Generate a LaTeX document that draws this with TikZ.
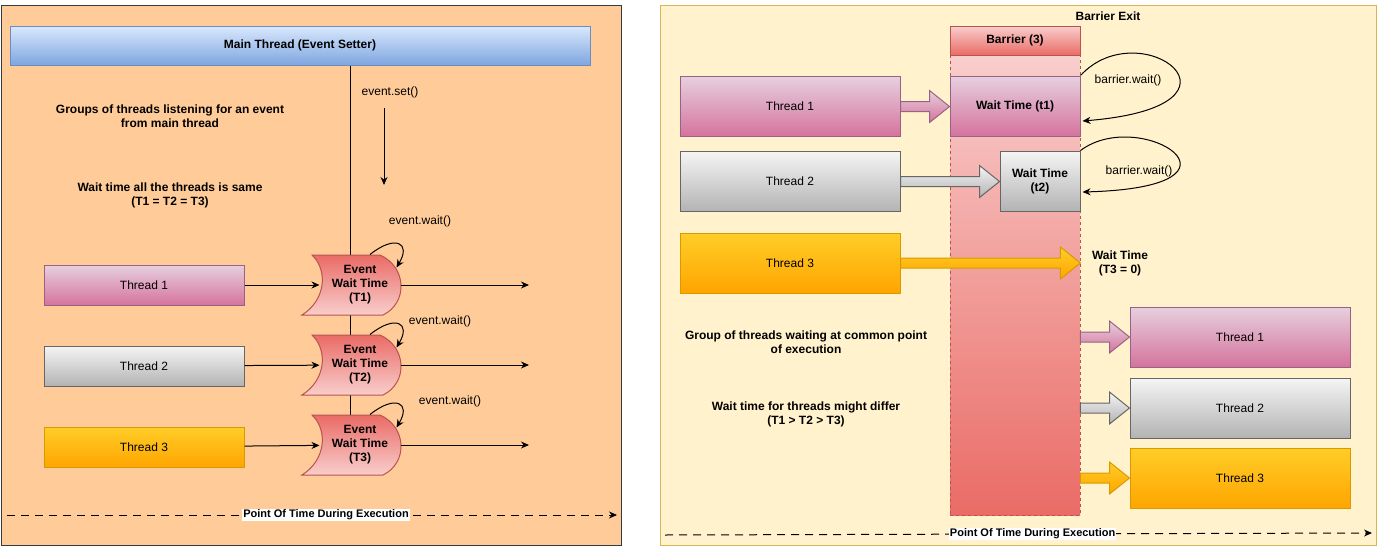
\documentclass[tikz,border=0pt]{standalone}
\usepackage{fontspec}
\setmainfont{Liberation Sans}
\usetikzlibrary{positioning,arrows.meta,calc}

\definecolor{peach}{HTML}{FFCC99}
\definecolor{darkln}{HTML}{36393D}
\definecolor{cream}{HTML}{FFF2CC}
\definecolor{creamln}{HTML}{D6B656}
\definecolor{blueA}{HTML}{DAE8FC}\definecolor{blueB}{HTML}{7EA6E0}\definecolor{blueln}{HTML}{6C8EBF}
\definecolor{purpA}{HTML}{E6D0DE}\definecolor{purpB}{HTML}{D5739D}\definecolor{purpln}{HTML}{996185}
\definecolor{greyA}{HTML}{F5F5F5}\definecolor{greyB}{HTML}{B3B3B3}\definecolor{greyln}{HTML}{666666}
\definecolor{orngA}{HTML}{FFCD28}\definecolor{orngB}{HTML}{FFA500}\definecolor{orngln}{HTML}{D79B00}
\definecolor{redA}{HTML}{F8CECC}\definecolor{redB}{HTML}{EA6B66}\definecolor{redln}{HTML}{B85450}

% fat block arrow: style, from, to
\newcommand\fatarrow[3]{%
  \path[#1] let \p1=(#2), \p2=(#3) in
    (\x1,\y1+5pt) -- (\x2-20pt,\y1+5pt) -- (\x2-20pt,\y1+16pt) -- (\x2,\y1)
    -- (\x2-20pt,\y1-16pt) -- (\x2-20pt,\y1-5pt) -- (\x1,\y1-5pt) -- cycle;}
% event wait shape round a centre coordinate
\newcommand\evshape[1]{%
  \shade[evfill,shift={(#1)}] (-38,-30) -- (30,-30)
    .. controls (57,-18) and (58,18) .. (33,30) -- (-48,30)
    .. controls (-24,15) and (-22,-15) .. (-38,-30) -- cycle;}

\begin{document}
\begin{tikzpicture}[x=1pt,y=-1pt,line width=1pt,
  >={Stealth[length=8pt,width=7pt]},
  every node/.style={font=\fontsize{12}{14}\selectfont,align=center},
  note/.style={font=\fontsize{12}{14}\selectfont\bfseries},
  box/.style 2 args={minimum width=#1,minimum height=#2,inner sep=0pt},
  purpfill/.style={top color=purpA,bottom color=purpB,draw=purpln},
  greyfill/.style={top color=greyA,bottom color=greyB,draw=greyln},
  orngfill/.style={top color=orngA,bottom color=orngB,draw=orngln},
  redfill/.style={top color=redA,bottom color=redB,draw=redln},
  evfill/.style={top color=redB,bottom color=redA,draw=redln},
  evtxt/.style={note,minimum width=80pt,minimum height=60pt,inner sep=0pt},
  tline/.style={->,dash pattern=on 8pt off 6pt},
  timelbl/.style={fill=white,inner sep=1pt,font=\fontsize{11}{13}\selectfont\bfseries}]
\useasboundingbox (0,0) rectangle (1379,546);

% ---- event (left) ----
\draw[darkln,fill=peach] (1,5) rectangle (621,545);
\node[box={580pt}{39pt},top color=blueA,bottom color=blueB,draw=blueln,note] (main) at (300,45.5) {Main Thread (Event Setter)};
\node[note] (grp) at (170,116) {Groups of threads listening for an event\\from main thread};
\node[note] (same) at (170,195) {Wait time all the threads is same\\(T1 = T2 = T3)};

\coordinate (e1) at (350,285);
\coordinate (e2) at (350,365);
\coordinate (e3) at (350,445);
\draw (main.south -| e3) -- (e3);
\evshape{e1}\evshape{e2}\evshape{e3}
\node[evtxt] (ev1) at ([xshift=10pt]e1) {Event\\Wait Time\\(T1)};
\node[evtxt] (ev2) at ([xshift=10pt]e2) {Event\\Wait Time\\(T2)};
\node[evtxt] (ev3) at ([xshift=10pt]e3) {Event\\Wait Time\\(T3)};

\node (eset) at (390,92) {event.set()};
\coordinate (setend) at (384,185);
\draw[->] ([shift={(-6,7)}]eset.south) -- (setend);

\node[box={200pt}{40pt},purpfill] (t1) at (144,285) {Thread 1};
\node[box={200pt}{40pt},greyfill,below=40pt of t1] (t2) {Thread 2};
\node[box={200pt}{40pt},orngfill,below=40pt of t2] (t3) {Thread 3};

\coordinate (outx) at (529,0);
\foreach \i in {1,2,3} {
  \draw[->] (t\i) -- (ev\i);
  \draw[->] (ev\i) -- (ev\i -| outx);
  \draw[->] ([xshift=10pt]ev\i.north) .. controls +(25,-20) and +(15,-25) .. ([shift={(-4,13)}]ev\i.north east);
}
\node (ew1) at (420,221) {event.wait()};
\node (ew2) at (440,321) {event.wait()};
\node (ew3) at (450,401) {event.wait()};

\coordinate (tl0) at (7,515);
\coordinate (tl1) at (617,515);
\draw[tline] (tl0) -- node[pos=0.523,timelbl] (tlab1) {Point Of Time During Execution} (tl1);

% ---- barrier (right) ----
\draw[creamln,fill=cream] (660,5) rectangle (1376,545);
\node[note] (exit) at (1108,16) {Barrier Exit};
\node[box={130pt}{460pt},redfill,dashed,line width=0.8pt] (bar) at (1015,285) {};
\node[box={130pt}{29pt},redfill,note] (barh) at (1015,40.5) {Barrier (3)};

\node[box={220pt}{60pt},purpfill] (thr1L) at (790,106.5) {Thread 1};
\node[box={220pt}{60pt},greyfill] (thr2L) at (790,181.5) {Thread 2};
\node[box={220pt}{60pt},orngfill] (thr3L) at (790,263) {Thread 3};
\node[box={130pt}{60pt},purpfill,note] (wt1) at (1015,106) {Wait Time (t1)};
\node[box={80pt}{60pt},greyfill,note] (wt2) at (1040,181) {Wait Time\\(t2)};

\fatarrow{purpfill}{thr1L.east}{wt1.west}
\fatarrow{greyfill}{thr2L.east}{wt2.west}
\fatarrow{orngfill}{thr3L.east}{thr3L.east -| bar.east}
\node[note] (t3zero) at (1120,263) {Wait Time\\(T3 = 0)};

\draw[->] (wt1.north east) .. controls +(60,-65) and +(185,-15) .. ([shift={(2,15)}]wt1.east);
\draw[->] (wt2.north east) .. controls +(60,-45) and +(185,-5) .. ([shift={(2,11)}]wt2.east);
\node (bw1) at (1128,80) {barrier.wait()};
\node (bw2) at (1139,171) {barrier.wait()};

\node[box={220pt}{60pt},purpfill] (thr1R) at (1240,337) {Thread 1};
\node[box={220pt}{60pt},greyfill] (thr2R) at (1240,408) {Thread 2};
\node[box={220pt}{60pt},orngfill] (thr3R) at (1240,478) {Thread 3};
\fatarrow{purpfill}{bar.east |- thr1R.west}{thr1R.west}
\fatarrow{greyfill}{bar.east |- thr2R.west}{thr2R.west}
\fatarrow{orngfill}{bar.east |- thr3R.west}{thr3R.west}

\node[note] (grpR) at (806,342) {Group of threads waiting at common point\\of execution};
\node[note] (diff) at (806,414) {Wait time for threads might differ\\(T1 > T2 > T3)};

\coordinate (tr0) at (665,535);
\coordinate (tr1) at (1372,533);
\draw[tline] (tr0) -- node[pos=0.52,timelbl] (tlab2) {Point Of Time During Execution} (tr1);
\end{tikzpicture}
\end{document}
